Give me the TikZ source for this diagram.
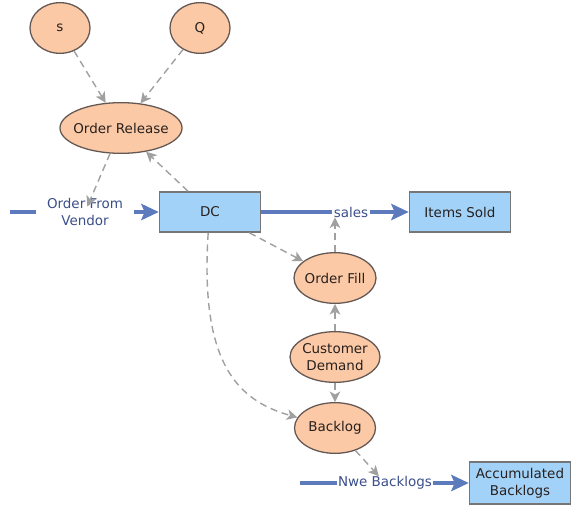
\documentclass[tikz,border=0pt]{standalone}
\usepackage{fontspec}
\setmainfont{DejaVu Sans}
\usetikzlibrary{arrows.meta, positioning, shapes.geometric}
\definecolor{peach}{RGB}{251,201,165}
\definecolor{skyfill}{RGB}{162,210,248}
\definecolor{flowblue}{RGB}{92,122,188}
\definecolor{labelblue}{RGB}{58,78,138}
\definecolor{linkgray}{RGB}{160,160,160}
\definecolor{rimgray}{RGB}{100,88,84}
\definecolor{boxgray}{RGB}{118,118,118}
\definecolor{inkdark}{RGB}{40,32,30}
\tikzset{
    aux/.style={ellipse, draw=rimgray, fill=peach, line width=1.1pt, inner ysep=0pt,
        inner xsep=-5pt, minimum height=1.52cm, text=inkdark, align=center},
    stock/.style={rectangle, draw=boxgray, fill=skyfill, line width=1.3pt, inner sep=0pt,
        minimum width=3.03cm, minimum height=1.2cm, text=inkdark, align=center},
    link/.style={draw=linkgray, line width=1.2pt, dash pattern=on 6pt off 4pt,
        -{Stealth[length=9pt, width=9pt, inset=2.5pt]}},
    flow/.style={draw=flowblue, line width=2.8pt,
        -{Stealth[length=15pt, width=14pt, inset=3pt]}},
    flowlabel/.style={text=labelblue, inner sep=0pt, align=center}
}
\begin{document}
\begin{tikzpicture}[x=0.03cm, y=-0.03cm, font=\fontsize{11.5}{14.5}\selectfont]
    \useasboundingbox (0,0) rectangle (572,504);
    % auxiliaries
    \node[aux, minimum width=1.8cm] (s) at (60,28) {s};
    \node[aux, minimum width=1.8cm] (q) at (200,28) {Q};
    \node[aux, minimum width=3.66cm] (release) at (121,128) {Order Release};
    \node[aux, minimum width=2.46cm] (orderfill) at (335,278) {Order Fill};
    \node[aux, minimum width=2.7cm] (demand) at (335,357) {Customer\\Demand};
    \node[aux, minimum width=2.43cm] (backlog) at (335,428) {Backlog};
    % stocks
    \node[stock] (dc) at (210,212) {DC};
    \node[stock] (sold) at (460,212) {Items Sold};
    \node[stock, minimum height=1.26cm] (accum) at (520,483) {Accumulated\\Backlogs};
    % flows
    \coordinate (src) at (10,212);
    \coordinate (nsrc) at (300,483);
    \node[flowlabel, inner xsep=0.32cm] (vendor) at (85,212) {Order From\\Vendor};
    \node[flowlabel, inner xsep=1pt] (sales) at (351,212) {sales};
    \node[flowlabel, inner xsep=1pt] (nwe) at (385,483) {Nwe Backlogs};
    \draw[flow] (src) -- (vendor) -- (dc);
    \draw[flow] (dc) -- (sales) -- (sold);
    \draw[flow] (nsrc) -- (nwe) -- (accum);
    % links
    \draw[link] (s) -- (release);
    \draw[link] (q) -- (release);
    \draw[link, shorten >=5pt] (release) -- (vendor.center);
    \draw[link] (dc) -- (release);
    \draw[link] (dc) -- (orderfill);
    \draw[link] (orderfill) -- (orderfill |- sales.south);
    \draw[link] (demand) -- (orderfill);
    \draw[link] (demand) -- (backlog);
    \draw[link] (dc.-95) .. controls (200,360) and (235,400) .. (backlog);
    \draw[link] (backlog) -- (nwe);
\end{tikzpicture}
\end{document}
